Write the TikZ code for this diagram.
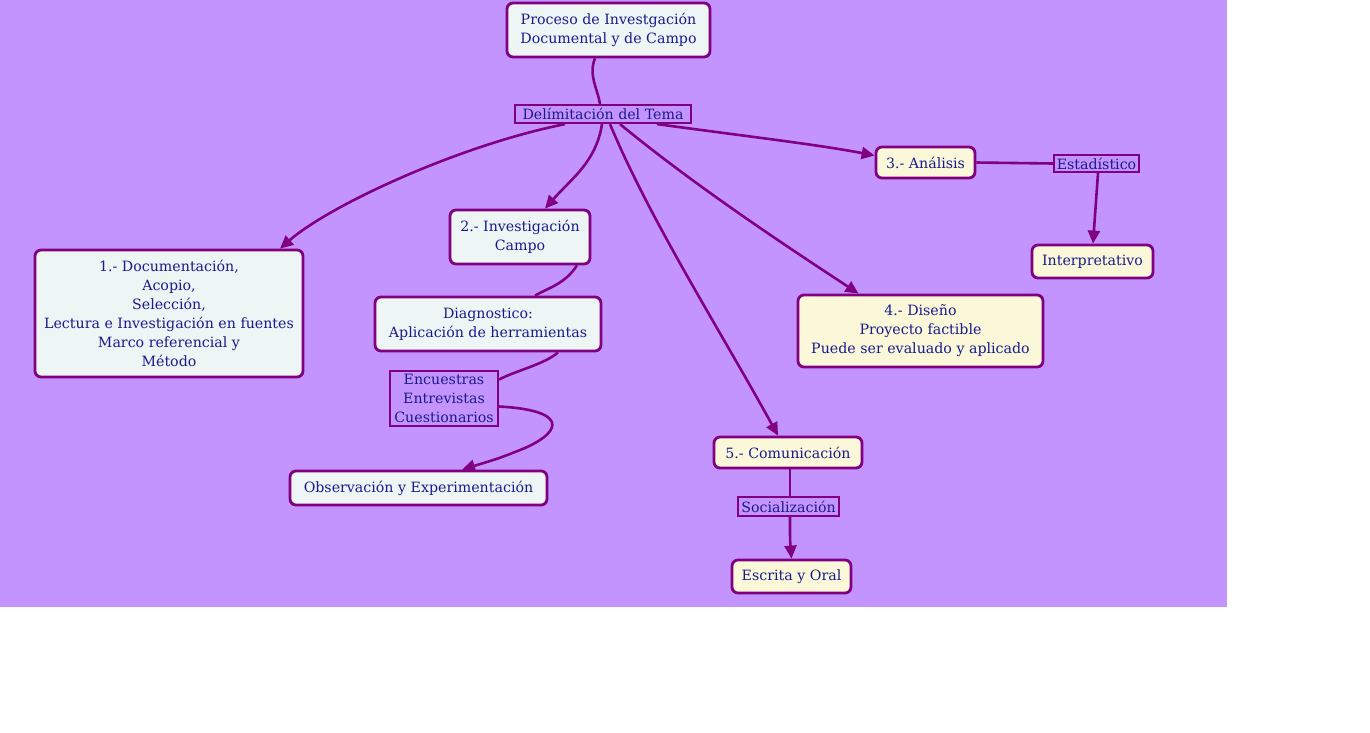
\documentclass[tikz,border=0pt]{standalone}
\usepackage{fontspec}
\setmainfont{DejaVu Serif}
\usetikzlibrary{arrows.meta}
\definecolor{bgc}{HTML}{C494FE}
\definecolor{pc}{HTML}{800080}
\definecolor{tc}{HTML}{1A1A8C}
\definecolor{fb}{HTML}{EEF5F5}
\definecolor{fy}{HTML}{FAF8D9}
\tikzset{
  nb/.style={draw=pc, line width=2.8pt, rounded corners=6pt, fill=fb, text=tc, align=center, inner sep=0pt, font=\fontsize{14.2}{19}\selectfont},
  ny/.style={nb, fill=fy},
  lbl/.style={draw=pc, line width=2.2pt, fill=bgc, text=tc, align=center, inner sep=0pt, font=\fontsize{14.2}{19}\selectfont},
  con/.style={draw=pc, line width=2.6pt},
  arr/.style={con, -{Triangle[length=13pt,width=12pt]}}
}
\begin{document}
\begin{tikzpicture}[x=1pt,y=-1pt]
\useasboundingbox (0,0) rectangle (1370,732);
\fill[white] (0,0) rectangle (1370,732);
\fill[bgc] (0,0) rectangle (1227,607);

\node[nb, minimum width=203pt, minimum height=54pt] (top) at (608.5,30) {Proceso de Investgación\\Documental y de Campo};
\node[lbl, minimum width=176pt, minimum height=18pt] (dl) at (603,114) {Delímitación del Tema};
\node[nb, minimum width=140pt, minimum height=54pt] (inv) at (520,237) {2.- Investigación\\Campo};
\node[nb, minimum width=268pt, minimum height=127pt] (doc) at (169,313.5) {1.- Documentación,\\Acopio,\\Selección,\\Lectura e Investigación en fuentes\\Marco referencial y\\Método};
\node[nb, minimum width=226pt, minimum height=54pt] (diag) at (488,324) {Diagnostico:\\Aplicación de herramientas};
\node[lbl, minimum width=108pt, minimum height=55pt] (enc) at (444,398.5) {Encuestras\\Entrevistas\\Cuestionarios};
\node[nb, minimum width=257pt, minimum height=34pt] (obs) at (418.5,488) {Observación y Experimentación};
\node[ny, minimum width=99pt, minimum height=31pt] (ana) at (925.5,162.5) {3.- Análisis};
\node[lbl, minimum width=85pt, minimum height=17pt] (est) at (1096.5,163.5) {Estadístico};
\node[ny, minimum width=121pt, minimum height=33pt] (interp) at (1092.5,261.5) {Interpretativo};
\node[ny, minimum width=245pt, minimum height=72pt] (dis) at (920.5,331) {4.- Diseño\\Proyecto factible\\Puede ser evaluado y aplicado};
\node[ny, minimum width=148pt, minimum height=31pt] (com) at (788,452.5) {5.- Comunicación};
\node[lbl, minimum width=101pt, minimum height=19pt] (soc) at (788.5,506.5) {Socialización};
\node[ny, minimum width=119pt, minimum height=33pt] (esc) at (791.5,576.5) {Escrita y Oral};

\draw[con] ([xshift=-13.5pt]top.south) .. controls (588,75) and (598,90) .. ([xshift=-3pt]dl.north);
\draw[arr] ([xshift=-38pt]dl.south) .. controls (460,145) and (330,205) .. ([xshift=111pt]doc.north);
\draw[arr] ([xshift=-1pt]dl.south) .. controls (596,162) and (572,178) .. ([xshift=25pt]inv.north);
\draw[arr] ([xshift=7pt]dl.south) .. controls (650,220) and (720,330) .. ([xshift=-10pt]com.north);
\draw[arr] ([xshift=17pt]dl.south) .. controls (700,190) and (800,255) .. ([xshift=-62pt]dis.north);
\draw[arr] ([xshift=54pt]dl.south) .. controls (760,138) and (820,145) .. ([yshift=7pt]ana.west);
\draw[con] ([xshift=57pt]inv.south) .. controls (565,284) and (548,288) .. ([xshift=47pt]diag.north);
\draw[con] ([xshift=70pt]diag.south) .. controls (545,364) and (515,371) .. ([yshift=19pt]enc.east);
\draw[arr] ([yshift=-8pt]enc.east) .. controls (565,410) and (565,430) .. (525,448) .. controls (500,458) .. ([xshift=43.5pt]obs.north);
\draw[con] (ana.east) -- (est.west);
\draw[arr] ([xshift=1.5pt]est.south) -- ([xshift=0.5pt]interp.north);
\draw[con] ([xshift=2pt]com.south) -- ([xshift=1.5pt]soc.north);
\draw[arr] ([xshift=1.5pt]soc.south) .. controls (790,540) .. (esc.north);
\end{tikzpicture}
\end{document}
